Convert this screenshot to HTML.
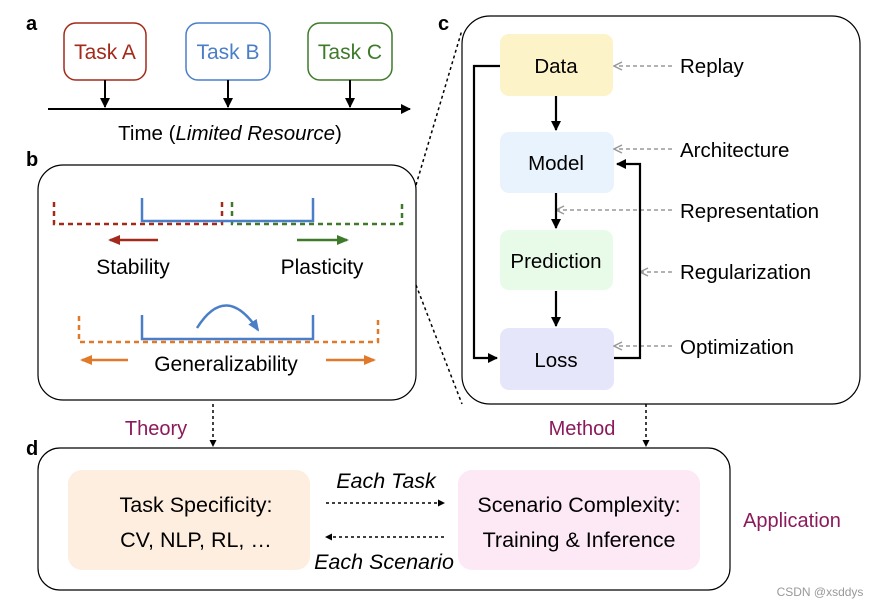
<!DOCTYPE html><html><head><style>body{margin:0;background:#fff}svg{display:block;font-family:"Liberation Sans",sans-serif}</style></head><body>
<svg width="882" height="604" viewBox="0 0 882 604">
<defs>
<marker id="ab" markerWidth="10" markerHeight="10" refX="9" refY="5" orient="auto" markerUnits="userSpaceOnUse"><path d="M0,0L10,5L0,10z" fill="#000"/></marker>
<marker id="ag" markerWidth="10" markerHeight="10" refX="9" refY="5" orient="auto" markerUnits="userSpaceOnUse"><path d="M1,1L9,5L1,9" fill="none" stroke="#999" stroke-width="1.5"/></marker>
<marker id="ar" markerWidth="12" markerHeight="10" refX="10" refY="5" orient="auto" markerUnits="userSpaceOnUse"><path d="M0,0L12,5L0,10z" fill="#a32a1a"/></marker>
<marker id="agr" markerWidth="12" markerHeight="10" refX="10" refY="5" orient="auto" markerUnits="userSpaceOnUse"><path d="M0,0L12,5L0,10z" fill="#3f7a2a"/></marker>
<marker id="ao" markerWidth="12" markerHeight="10" refX="10" refY="5" orient="auto" markerUnits="userSpaceOnUse"><path d="M0,0L12,5L0,10z" fill="#e07a2a"/></marker>
<marker id="abl" markerWidth="12" markerHeight="10" refX="10" refY="5" orient="auto" markerUnits="userSpaceOnUse"><path d="M0,0L12,5L0,10z" fill="#4a7fc8"/></marker>
<marker id="ad" markerWidth="7" markerHeight="7" refX="6" refY="3.5" orient="auto" markerUnits="userSpaceOnUse"><path d="M0,0L7,3.5L0,7z" fill="#000"/></marker>
</defs>
<g font-size="20" font-weight="bold"><text x="26" y="30">a</text><text x="26" y="166">b</text><text x="438" y="30">c</text><text x="26" y="455">d</text></g>
<rect x="64" y="23" width="82" height="57" rx="12" fill="none" stroke="#a32a1a" stroke-width="1.5"/>
<rect x="186" y="23" width="84" height="57" rx="12" fill="none" stroke="#4a7fc8" stroke-width="1.5"/>
<rect x="308" y="23" width="84" height="57" rx="12" fill="none" stroke="#3f7a2a" stroke-width="1.5"/>
<g font-size="21" text-anchor="middle"><text x="105" y="59" fill="#a32a1a">Task A</text><text x="228" y="59" fill="#4a7fc8">Task B</text><text x="350" y="59" fill="#3f7a2a">Task C</text></g>
<g stroke="#000" stroke-width="2"><line x1="48" y1="109" x2="410" y2="109" marker-end="url(#ab)"/><line x1="105" y1="80" x2="105" y2="107" marker-end="url(#ab)"/><line x1="228" y1="80" x2="228" y2="107" marker-end="url(#ab)"/><line x1="350" y1="80" x2="350" y2="107" marker-end="url(#ab)"/></g>
<text x="230" y="140" font-size="20.5" text-anchor="middle">Time (<tspan font-style="italic">Limited Resource</tspan>)</text>
<rect x="38" y="165" width="378" height="235" rx="25" fill="none" stroke="#000" stroke-width="1.2"/>
<path d="M54,202V224H222V202" fill="none" stroke="#a32a1a" stroke-width="2.5" stroke-dasharray="5,4"/>
<path d="M232,202V224H402V202" fill="none" stroke="#3f7a2a" stroke-width="2.5" stroke-dasharray="5,4"/>
<path d="M142,198V221H313V198" fill="none" stroke="#4a7fc8" stroke-width="2.5"/>
<line x1="158" y1="240" x2="110" y2="240" stroke="#a32a1a" stroke-width="2.5" marker-end="url(#ar)"/>
<line x1="297" y1="240" x2="347" y2="240" stroke="#3f7a2a" stroke-width="2.5" marker-end="url(#agr)"/>
<g font-size="21" text-anchor="middle"><text x="133" y="274">Stability</text><text x="322" y="274">Plasticity</text><text x="226" y="371">Generalizability</text></g>
<path d="M79,316V342H378V316" fill="none" stroke="#e07a2a" stroke-width="2.5" stroke-dasharray="5,4"/>
<path d="M142,315V339H313V315" fill="none" stroke="#4a7fc8" stroke-width="2.5"/>
<path d="M197,328Q226,282 258,330" fill="none" stroke="#4a7fc8" stroke-width="2.5" marker-end="url(#abl)"/>
<line x1="128" y1="360" x2="82" y2="360" stroke="#e07a2a" stroke-width="2.5" marker-end="url(#ao)"/>
<line x1="326" y1="360" x2="374" y2="360" stroke="#e07a2a" stroke-width="2.5" marker-end="url(#ao)"/>
<g stroke="#000" stroke-width="1.5" stroke-dasharray="3,3" fill="none"><line x1="416" y1="185" x2="462" y2="30"/><line x1="416" y1="285" x2="462" y2="404"/></g>
<rect x="462" y="16" width="398" height="388" rx="28" fill="none" stroke="#000" stroke-width="1.2"/>
<rect x="500" y="34" width="113" height="62" rx="9" fill="#fdf3c8"/>
<rect x="500" y="132" width="114" height="61" rx="9" fill="#e8f3fd"/>
<rect x="500" y="230" width="113" height="60" rx="9" fill="#e8fbe9"/>
<rect x="500" y="328" width="114" height="62" rx="9" fill="#e6e6fa"/>
<g font-size="20.5" text-anchor="middle"><text x="556" y="73">Data</text><text x="556" y="170">Model</text><text x="556" y="268">Prediction</text><text x="556" y="367">Loss</text></g>
<g font-size="20.5"><text x="680" y="73">Replay</text><text x="680" y="157">Architecture</text><text x="680" y="218">Representation</text><text x="680" y="279">Regularization</text><text x="680" y="354">Optimization</text></g>
<g stroke="#999" stroke-width="1.5" stroke-dasharray="4,3"><line x1="672" y1="66" x2="614" y2="66" marker-end="url(#ag)"/><line x1="672" y1="149" x2="614" y2="149" marker-end="url(#ag)"/><line x1="672" y1="210" x2="556" y2="210" marker-end="url(#ag)"/><line x1="672" y1="272" x2="640" y2="272" marker-end="url(#ag)"/><line x1="672" y1="346" x2="614" y2="346" marker-end="url(#ag)"/></g>
<g stroke="#000" stroke-width="2.2" fill="none"><line x1="556" y1="96" x2="556" y2="130" marker-end="url(#ab)"/><line x1="556" y1="193" x2="556" y2="228" marker-end="url(#ab)"/><line x1="556" y1="291" x2="556" y2="326" marker-end="url(#ab)"/>
<path d="M500,66H474V358H497" marker-end="url(#ab)"/><path d="M614,358H640V164H617" marker-end="url(#ab)"/></g>
<g font-size="20" fill="#8b1a5a" text-anchor="middle"><text x="156" y="435">Theory</text><text x="582" y="435">Method</text><text x="792" y="527">Application</text></g>
<g stroke="#000" stroke-width="1.5" stroke-dasharray="3,3"><line x1="213" y1="404" x2="213" y2="446" marker-end="url(#ad)"/><line x1="646" y1="404" x2="646" y2="446" marker-end="url(#ad)"/></g>
<rect x="38" y="448" width="692" height="142" rx="22" fill="none" stroke="#000" stroke-width="1.2"/>
<rect x="68" y="470" width="242" height="100" rx="14" fill="#fdeee0"/>
<rect x="458" y="470" width="242" height="100" rx="14" fill="#fde8f5"/>
<g font-size="21.5" text-anchor="middle"><text x="196" y="512">Task Specificity:</text><text x="196" y="547">CV, NLP, RL, …</text><text x="579" y="512">Scenario Complexity:</text><text x="579" y="547">Training &amp; Inference</text>
<text x="386" y="488" font-style="italic">Each Task</text><text x="384" y="569" font-style="italic">Each Scenario</text></g>
<g stroke="#000" stroke-width="1.5" stroke-dasharray="3,3"><line x1="326" y1="503" x2="444" y2="503" marker-end="url(#ad)"/><line x1="444" y1="537" x2="326" y2="537" marker-end="url(#ad)"/></g>
<text x="820" y="596" font-size="12" fill="#999" text-anchor="middle">CSDN @xsddys</text>
</svg></body></html>
